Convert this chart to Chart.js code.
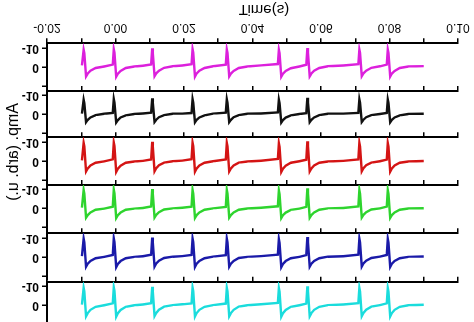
<!DOCTYPE html>
<html><head><meta charset="utf-8">
<script src="https://cdn.jsdelivr.net/npm/chart.js@4.4.0/dist/chart.umd.min.js"></script>
<style>
html,body{margin:0;padding:0;background:#fff;}
#fig{position:relative;width:474px;height:322px;overflow:hidden;transform:scaleY(-1);transform-origin:50% 50%;background:#fff;}
#fig canvas{position:absolute;left:0;top:-40px;}
#xt{position:absolute;left:214px;top:303px;width:100px;text-align:center;font:15px "Liberation Sans",Arial,sans-serif;color:#000;line-height:18px;}
#yt{position:absolute;left:-87px;top:160px;width:200px;height:20px;text-align:center;font:16px "Liberation Sans",Arial,sans-serif;color:#000;line-height:20px;transform:rotate(-90deg);white-space:nowrap;}
</style></head>
<body>
<div id="fig">
<canvas id="c0" width="474" height="400"></canvas>
<canvas id="c1" width="474" height="400"></canvas>
<canvas id="c2" width="474" height="400"></canvas>
<canvas id="c3" width="474" height="400"></canvas>
<canvas id="c4" width="474" height="400"></canvas>
<canvas id="c5" width="474" height="400"></canvas>
<div id="xt">Time(s)</div>
<div id="yt">Amp. (arb. u.)</div>
</div>
<script>
// ---- data ----
const xTicks = [-0.02,-0.01,0.00,0.01,0.02,0.03,0.04,0.05,0.06,0.07,0.08,0.09,0.10];
const xTickLabels = ['-0.02','','0.00','','0.02','','0.04','','0.06','','0.08','','0.10'];
const yTicks = [-10,-5,0,5,10];
const yTickLabels = ['-10','','0','',''];

const times = [
-0.0098,
-0.0093,-0.0091,-0.0086,-0.0081,-0.0073,-0.0058,-0.0033,
-0.0008,
-0.0005,-0.0003,0.0002,0.0007,0.0015,0.0030,0.0055,0.0080,
0.0104,
0.0107,0.0109,0.0114,0.0119,0.0127,0.0142,0.0167,0.0195,
0.0222,
0.0225,0.0227,0.0232,0.0237,0.0245,0.0260,0.0285,
0.0322,
0.0325,0.0327,0.0332,0.0337,0.0345,0.0360,0.0385,0.0425,
0.0474,
0.0477,0.0479,0.0484,0.0489,0.0497,0.0512,0.0537,
0.0557,
0.0560,0.0562,0.0567,0.0572,0.0580,0.0595,0.0620,0.0665,
0.0709,
0.0712,0.0714,0.0719,0.0724,0.0732,0.0747,0.0772,
0.0792,
0.0795,0.0797,0.0802,0.0807,0.0815,0.0830,0.0855,0.0900
];

const magentaAmp = [-0.8,
 -9.0,-7.2,5.0,3.5,2.0,0.6,-0.2,
 -1.2,
 -9.3,-7.5,5.2,3.6,2.1,0.6,-0.2,-0.6,
 -1.3,
 -9.1,-7.3,4.9,3.4,2.0,0.5,-0.3,-0.7,
 -1.4,
 -9.4,-7.5,5.1,3.5,2.0,0.6,-0.3,
 -1.2,
 -9.2,-7.4,5.0,3.5,2.1,0.6,-0.2,-0.8,
 -1.5,
 -9.0,-7.2,5.2,3.6,2.1,0.7,-0.2,
 -1.1,
 -9.3,-7.5,5.0,3.5,2.0,0.6,-0.3,-0.7,
 -1.4,
 -9.1,-7.3,4.9,3.4,2.0,0.5,-0.3,
 -1.2,
 -9.2,-7.4,5.1,3.5,2.1,0.6,-0.2,-0.4];

const blackAmp = [-0.5,
 -7.8,-6.0,4.0,2.8,1.5,0.3,-0.4,
 -0.9,
 -8.2,-6.3,4.2,2.9,1.5,0.4,-0.3,-0.6,
 -1.0,
 -7.9,-6.1,3.9,2.7,1.4,0.3,-0.4,-0.5,
 -0.8,
 -8.1,-6.2,4.1,2.8,1.5,0.4,-0.5,
 -1.0,
 -8.0,-6.1,4.0,2.8,1.4,0.3,-0.4,-0.6,
 -1.1,
 -7.8,-6.0,4.2,2.9,1.6,0.4,-0.3,
 -0.7,
 -8.2,-6.3,4.0,2.8,1.5,0.3,-0.4,-0.5,
 -0.9,
 -8.0,-6.2,3.9,2.7,1.4,0.3,-0.3,
 -0.8,
 -7.9,-6.1,4.1,2.8,1.5,0.4,-0.3,-0.4];

const redAmp = [-0.3,
 -9.5,-7.6,5.6,4.0,2.4,1.0,0.3,
 -0.8,
 -9.7,-7.8,5.8,4.1,2.5,1.0,0.3,0.0,
 -0.7,
 -9.4,-7.5,5.5,3.9,2.3,0.9,0.2,-0.1,
 -0.9,
 -9.6,-7.7,5.7,4.0,2.4,1.0,0.2,
 -0.8,
 -9.5,-7.6,5.6,4.0,2.4,0.9,0.3,-0.1,
 -1.0,
 -9.3,-7.4,5.8,4.1,2.5,1.0,0.2,
 -0.6,
 -9.7,-7.8,5.6,4.0,2.4,1.0,0.3,0.0,
 -0.8,
 -9.5,-7.6,5.5,3.9,2.3,0.9,0.2,
 -0.7,
 -9.4,-7.5,5.7,4.0,2.4,1.0,0.3,0.1];

const greenAmp = [-0.5,
 -9.8,-7.8,4.8,3.4,2.0,0.6,0.0,
 -1.0,
 -10.0,-8.0,5.0,3.5,2.1,0.6,0.0,-0.3,
 -1.1,
 -9.7,-7.7,4.7,3.3,1.9,0.5,-0.1,-0.4,
 -1.0,
 -9.9,-7.9,4.9,3.4,2.0,0.6,-0.1,
 -0.9,
 -9.8,-7.8,4.8,3.4,2.0,0.6,0.0,-0.4,
 -1.2,
 -9.6,-7.6,5.0,3.5,2.1,0.7,0.0,
 -0.9,
 -10.0,-8.0,4.8,3.4,2.0,0.6,-0.1,-0.3,
 -1.1,
 -9.8,-7.8,4.7,3.3,1.9,0.5,-0.1,
 -1.0,
 -9.7,-7.7,4.9,3.4,2.0,0.6,0.0,-0.2];

const blueAmp = [-0.4,
 -9.6,-7.6,5.2,3.6,2.1,0.7,0.0,
 -1.0,
 -9.8,-7.8,5.4,3.7,2.2,0.7,0.0,-0.3,
 -1.1,
 -9.5,-7.5,5.1,3.5,2.0,0.6,-0.1,-0.4,
 -1.0,
 -9.7,-7.7,5.3,3.6,2.1,0.7,-0.1,
 -0.9,
 -9.6,-7.6,5.2,3.6,2.1,0.6,0.0,-0.4,
 -1.2,
 -9.4,-7.4,5.4,3.7,2.2,0.7,0.0,
 -0.9,
 -9.8,-7.8,5.2,3.6,2.1,0.7,-0.1,-0.3,
 -1.1,
 -9.6,-7.6,5.1,3.5,2.0,0.6,-0.1,
 -1.0,
 -9.5,-7.5,5.3,3.6,2.1,0.7,0.0,-0.2];

const cyanAmp = [-0.4,
 -9.2,-7.3,5.8,4.1,2.4,0.8,0.0,
 -1.0,
 -9.4,-7.5,6.0,4.2,2.5,0.8,0.0,-0.4,
 -1.1,
 -9.1,-7.2,5.7,4.0,2.3,0.7,-0.1,-0.5,
 -1.0,
 -9.3,-7.4,5.9,4.1,2.4,0.8,-0.1,
 -0.9,
 -9.2,-7.3,5.8,4.1,2.4,0.7,0.0,-0.5,
 -1.2,
 -9.0,-7.1,6.0,4.2,2.5,0.8,0.0,
 -0.9,
 -9.4,-7.5,5.8,4.1,2.4,0.8,-0.1,-0.4,
 -1.1,
 -9.2,-7.3,5.7,4.0,2.3,0.7,-0.1,
 -1.0,
 -9.1,-7.2,5.9,4.1,2.4,0.8,0.0,-0.3];

// ---- panels (top to bottom as seen) ----
const panels = [
  {id:'c0', amp:magentaAmp, color:'#dc20dc', top:43.3, labels:true},
  {id:'c1', amp:blackAmp,   color:'#111111', top:91.0, labels:false},
  {id:'c2', amp:redAmp,     color:'#d41414', top:137.3, labels:false},
  {id:'c3', amp:greenAmp,   color:'#2ed42e', top:185.0, labels:false},
  {id:'c4', amp:blueAmp,    color:'#1a1aa8', top:233.3, labels:false},
  {id:'c5', amp:cyanAmp,    color:'#1adcdc', top:281.7, labels:false}
];

const FONT = '"Liberation Sans", Arial, sans-serif';

panels.forEach(p => {
  new Chart(document.getElementById(p.id), {
    type: 'line',
    data: { datasets: [{
      data: times.map((t, i) => ({x: t, y: p.amp[i]})),
      borderColor: p.color, borderWidth: 2.4, pointRadius: 0, tension: 0, fill: false
    }]},
    options: {
      responsive: false, animation: false, devicePixelRatio: 1,
      layout: { padding: { top: 316 - p.top, bottom: 18 + p.top, left: 0, right: 16 } },
      plugins: { legend: {display: false}, tooltip: {enabled: false} },
      scales: {
        x: {
          type: 'linear', min: -0.02, max: 0.10,
          afterBuildTicks: s => { s.ticks = xTicks.map(v => ({value: v})); },
          afterFit: s => { s.height = 20; },
          ticks: {
            autoSkip: false, maxRotation: 0, minRotation: 0, padding: 4, color: '#000',
            font: {size: 12, family: FONT},
            callback: (v, i) => p.labels ? xTickLabels[i] : ''
          },
          grid: {drawOnChartArea: false, drawTicks: true, tickLength: 5, color: '#000', lineWidth: 1.5},
          border: {display: true, color: '#000', width: 2}
        },
        y: {
          min: -12.4, max: 11.8,
          afterBuildTicks: s => { s.ticks = yTicks.map(v => ({value: v})); },
          afterFit: s => { s.width = 47; },
          ticks: {
            padding: 3, color: '#000', font: {size: 12, weight: 'bold', family: FONT},
            callback: (v, i) => yTickLabels[i]
          },
          grid: {drawOnChartArea: false, drawTicks: true, tickLength: 5, color: '#000', lineWidth: 1.5},
          border: {display: true, color: '#000', width: 2}
        }
      }
    }
  });
});
</script>
</body></html>
